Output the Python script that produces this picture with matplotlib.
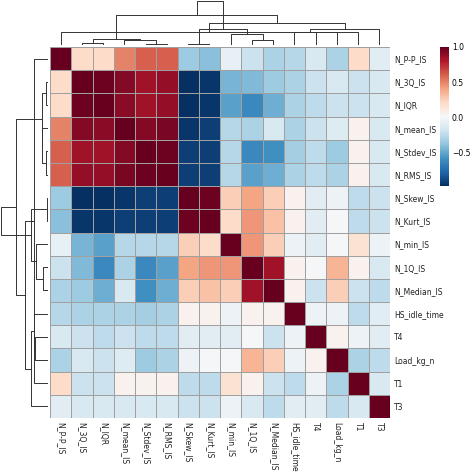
import numpy as np
import matplotlib
matplotlib.use("Agg")
import matplotlib.pyplot as plt

labels = ["N_P-P_IS","N_3Q_IS","N_IQR","N_mean_IS","N_Stdev_IS","N_RMS_IS","N_Skew_IS","N_Kurt_IS",
          "N_min_IS","N_1Q_IS","N_Median_IS","HS_idle_time","T4","Load_kg_n","T1","T3"]
corr_rows = [
 [1,.2,.2,.5,.6,.6,-.35,-.4,-.1,-.2,-.3,-.25,-.15,-.3,.2,-.1],
 [.2,1,.98,.92,.85,.88,-.98,-.95,-.45,-.4,-.35,-.3,-.2,-.15,-.2,-.15],
 [.2,.98,1,.9,.85,.88,-.98,-.95,-.5,-.6,-.45,-.3,-.25,-.2,-.2,-.15],
 [.5,.92,.9,1,.92,.95,-.95,-.92,-.25,-.3,-.15,-.3,-.2,-.1,.05,-.15],
 [.6,.85,.85,.92,1,.98,-.92,-.92,-.25,-.6,-.55,-.3,-.25,-.35,.05,-.15],
 [.6,.88,.88,.95,.98,1,-.92,-.92,-.25,-.5,-.45,-.3,-.25,-.3,.05,-.15],
 [-.35,-.98,-.98,-.95,-.92,-.92,1,.98,.25,.4,.25,.05,-.1,-.05,-.25,-.2],
 [-.4,-.95,-.95,-.92,-.92,-.92,.98,1,.2,.45,.3,.05,-.1,0,-.25,-.2],
 [-.05,-.45,-.55,-.3,-.3,-.3,.25,.2,1,.45,.25,-.1,-.1,-.05,.15,-.05],
 [-.2,-.45,-.65,-.3,-.65,-.55,.4,.45,.45,1,.85,.05,.05,.35,.05,-.15],
 [-.3,-.35,-.5,-.15,-.65,-.5,.25,.3,.25,.85,1,.05,-.2,.25,-.2,-.25],
 [-.3,-.3,-.3,-.3,-.35,-.3,.05,.05,0,.05,.05,1,-.05,-.05,-.25,-.1],
 [-.15,-.2,-.25,-.2,-.25,-.25,-.1,-.1,-.1,-.05,-.2,-.05,1,.05,-.05,-.1],
 [-.3,-.15,-.2,-.15,-.35,-.3,-.05,0,.05,.35,.25,-.05,.05,1,-.3,-.25],
 [.2,-.2,-.2,.05,.05,.05,-.25,-.25,.15,.05,-.2,-.25,-.05,-.3,1,-.15],
 [-.1,-.15,-.15,-.15,-.15,-.15,-.2,-.2,-.05,-.15,-.25,-.1,-.1,-.25,-.15,1],
]
C = np.array(corr_rows, float)
C = (C + C.T) / 2
n = len(labels)

def linkage_tree(M):
    D = np.sqrt(((M[:, None, :] - M[None, :, :]) ** 2).sum(-1))
    clusters = {i: [i] for i in range(n)}
    pos = {i: float(i) for i in range(n)}
    hgt = {i: 0.0 for i in range(n)}
    merges = []
    nid = n
    while len(clusters) > 1:
        keys = list(clusters)
        best = None
        for a in range(len(keys)):
            for b in range(a + 1, len(keys)):
                ka, kb = keys[a], keys[b]
                d = max(D[i, j] for i in clusters[ka] for j in clusters[kb])
                if best is None or d < best[0]:
                    best = (d, ka, kb)
        d, ka, kb = best
        merges.append((ka, kb, d, nid))
        clusters[nid] = clusters.pop(ka) + clusters.pop(kb)
        pos[nid] = (pos[ka] + pos[kb]) / 2
        hgt[nid] = d
        nid += 1
    return merges, pos, hgt

merges, pos, hgt = linkage_tree(C)
H = max(hgt.values())

fig = plt.figure(figsize=(4.74, 4.74), dpi=100)
W = 474.0
def ax_px(x0, y0, x1, y1):
    return fig.add_axes([x0 / W, 1 - y1 / W, (x1 - x0) / W, (y1 - y0) / W])

L, R, T, B = 50, 390, 47, 418
ax = ax_px(L, T, R, B)
im = ax.pcolormesh(C, cmap="RdBu_r", vmin=-0.98, vmax=1, edgecolors="#a0a0a0", linewidth=0.6)
ax.set_xlim(0, n); ax.set_ylim(n, 0)
ax.set_xticks(np.arange(n) + 0.5)
ax.set_xticklabels(labels, rotation=-90, fontsize=5.5, color="#222222")
ax.set_yticks(np.arange(n) + 0.5)
ax.set_yticklabels(labels, fontsize=5.5, color="#222222")
ax.yaxis.tick_right()
ax.tick_params(length=0, pad=3)
for s in ax.spines.values():
    s.set_visible(False)

axt = ax_px(L, 0, R, T - 2)
axl = ax_px(0, T, L - 2, B)
for ka, kb, d, nid in merges:
    xa, xb = pos[ka] + 0.5, pos[kb] + 0.5
    ha, hb = hgt[ka], hgt[kb]
    axt.plot([xa, xa, xb, xb], [ha, d, d, hb], color="#333333", lw=0.7)
    axl.plot([ha, d, d, hb], [xa, xa, xb, xb], color="#333333", lw=0.7)
axt.set_xlim(0, n); axt.set_ylim(0, H * 1.02)
axl.set_ylim(n, 0); axl.set_xlim(H * 1.02, 0)
for a in (axt, axl):
    a.axis("off")

cax = ax_px(440, 47, 449, 186)
cb = fig.colorbar(im, cax=cax, ticks=[-0.5, 0, 0.5, 1])
cb.ax.tick_params(labelsize=5.5, length=0, pad=2)
cb.outline.set_visible(False)

fig.savefig("out.png", dpi=100)
